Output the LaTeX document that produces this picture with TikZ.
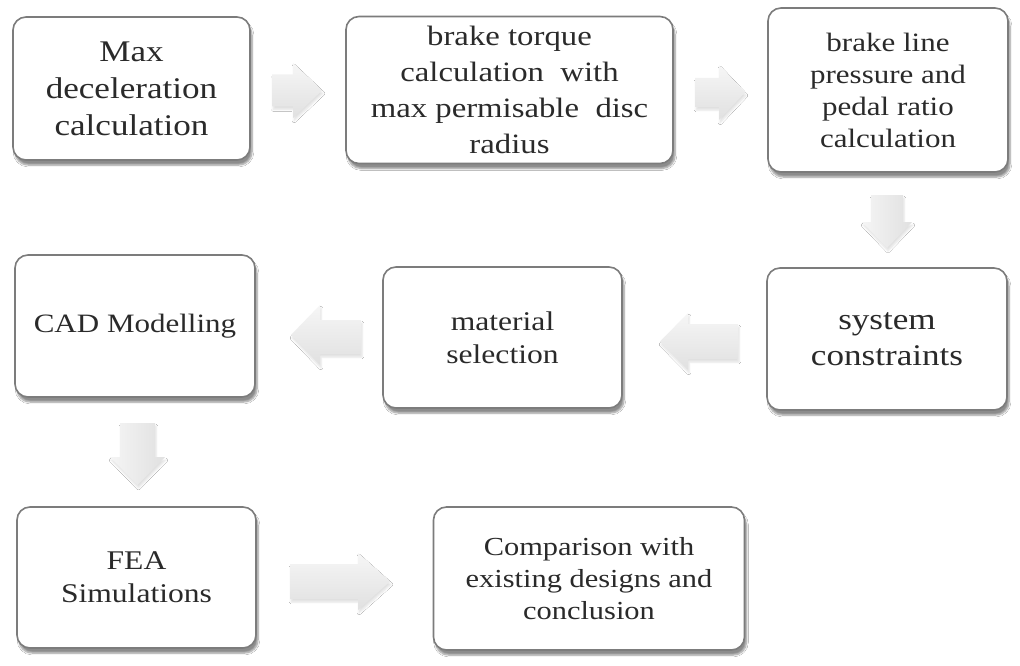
\documentclass[tikz,border=0pt]{standalone}
\usepackage{fontspec}
\setmainfont[FakeStretch=1.17]{Liberation Serif}
\usetikzlibrary{shadows.blur}
\definecolor{boxline}{HTML}{7C7C7C}
\definecolor{txt}{HTML}{2A2A2A}
\tikzset{
  stepbox/.style={draw=boxline, line width=1.6pt, rounded corners=13pt, fill=white,
    align=center, text=txt, inner sep=0pt,
    blur shadow={shadow xshift=2pt, shadow yshift=-5pt, shadow blur steps=6, shadow opacity=45}},
  harrow/.style={draw=none, top color=gray!7, bottom color=gray!24,
    blur shadow={shadow xshift=1pt, shadow yshift=-3pt, shadow blur steps=5, shadow opacity=12}},
  varrow/.style={draw=none, left color=gray!8, right color=gray!24,
    blur shadow={shadow xshift=1pt, shadow yshift=-3pt, shadow blur steps=5, shadow opacity=12}},
}
\begin{document}
\begin{tikzpicture}[x=1pt,y=-1pt]
\useasboundingbox[fill=white] (0,0) rectangle (1020,666);

% boxes
\node[stepbox, minimum width=237pt, minimum height=143pt,
  font=\fontsize{30}{37}\selectfont] (b1) at (131.5,88.5)
  {Max\\deceleration\\calculation};
\node[stepbox, minimum width=327pt, minimum height=147pt,
  font=\fontsize{28}{36}\selectfont] (b2) at (509.5,90)
  {brake torque\\calculation\ \ with\\max permisable\ \ disc\\radius};
\node[stepbox, minimum width=240pt, minimum height=164pt,
  font=\fontsize{26.5}{32}\selectfont] (b3) at (888,90)
  {brake line\\pressure and\\pedal ratio\\calculation};
\node[stepbox, minimum width=240pt, minimum height=142pt,
  font=\fontsize{30}{36}\selectfont] (b4) at (887,339)
  {system\\constraints};
\node[stepbox, minimum width=239pt, minimum height=141pt,
  font=\fontsize{27}{33}\selectfont] (b5) at (502.5,337.5)
  {material\\selection};
\node[stepbox, minimum width=240pt, minimum height=142pt,
  font=\fontsize{26.5}{32}\selectfont] (b6) at (135,326)
  {CAD Modelling};
\node[stepbox, minimum width=239pt, minimum height=141pt,
  font=\fontsize{27}{33}\selectfont] (b7) at (136.5,577.5)
  {FEA\\Simulations};
\node[stepbox, minimum width=311pt, minimum height=143pt,
  font=\fontsize{26}{32}\selectfont] (b8) at (589,578.5)
  {Comparison with\\existing designs and\\conclusion};

% block arrows
\path[harrow] (272,74.5) -- (293,74.5) -- (293,63) -- (322,90.5) -- (293,118) -- (293,106.5) -- (272,106.5) -- cycle;
\path[harrow] (695,78) -- (719,78) -- (719,65) -- (745,92.5) -- (719,120) -- (719,107) -- (695,107) -- cycle;
\path[varrow] (871,195) -- (903,195) -- (903,222) -- (912,222) -- (887,248) -- (862,222) -- (871,222) -- cycle;
\path[harrow] (738,324) -- (688,324) -- (688,313) -- (660,341.5) -- (688,370) -- (688,359) -- (738,359) -- cycle;
\path[harrow] (361,320) -- (320,320) -- (320,305) -- (291,335) -- (320,365) -- (320,354) -- (361,354) -- cycle;
\path[varrow] (120,423) -- (155,423) -- (155,457) -- (165,457) -- (137.5,485) -- (110,457) -- (120,457) -- cycle;
\path[harrow] (290,564) -- (358,564) -- (358,553) -- (390,581.5) -- (358,610) -- (358,599) -- (290,599) -- cycle;
\end{tikzpicture}
\end{document}
